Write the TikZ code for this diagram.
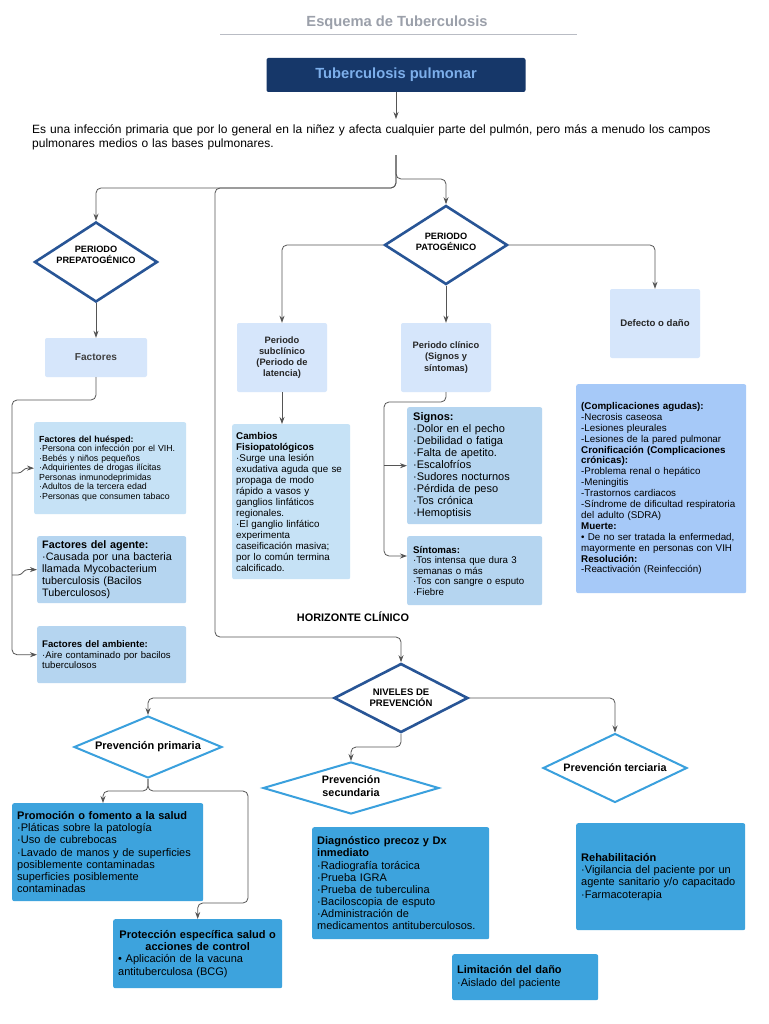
\documentclass[tikz,border=0pt]{standalone}
\usepackage{fontspec}
\setmainfont{Liberation Sans}
\usepackage{tikz}
\usetikzlibrary{arrows.meta,shapes,positioning,calc}
\definecolor{tbnavy}{RGB}{22,55,105}
\definecolor{tbtitle}{RGB}{125,175,235}
\definecolor{tbgray}{RGB}{155,160,170}
\definecolor{tbline}{RGB}{85,85,85}
\definecolor{tbdark}{RGB}{40,85,150}
\definecolor{tbmid}{RGB}{58,160,221}
\definecolor{tbpale}{RGB}{214,230,251}
\definecolor{tbsky}{RGB}{198,226,246}
\definecolor{tbsoft}{RGB}{181,213,240}
\definecolor{tbperi}{RGB}{166,201,248}
\definecolor{tbbox}{RGB}{61,163,221}
\newcommand{\fsz}[2]{\fontsize{#1}{#2}\selectfont}
\tikzstyle{arrow} = [line width=0.8pt,->,>={Stealth[length=7pt,width=5pt]},color=tbline,rounded corners=5pt]
\tikzstyle{bigdiamond} = [diamond, draw=tbdark, line width=2.6pt, inner sep=0pt]
\tikzstyle{smalldiamond} = [diamond, draw=tbmid, line width=2pt, inner sep=0pt]
\tikzstyle{dtext} = [align=center, font=\bfseries\fsz{9.2}{10.7}, text=black]
\tikzstyle{headbox} = [rectangle, rounded corners=2pt, fill=tbpale, text=black!85, align=center, font=\bfseries\fsz{9.3}{11.1}]
\tikzstyle{infobox} = [rectangle, rounded corners=2pt, anchor=north west, inner xsep=5pt, inner ysep=3pt, align=left, text=black]

\begin{document}
\begin{tikzpicture}[x=1pt,y=-1pt]
\useasboundingbox (0,0) rectangle (768,1024);
\fill[white] (0,0) rectangle (768,1024);

% Title
\node[font=\bfseries\fsz{14.7}{17}, text=tbgray] (title) at (397,23) {Esquema de Tuberculosis};
\draw[tbgray!70, line width=0.8pt] (220,34) -- (577,34);
\node[fill=tbnavy, text=tbtitle, rounded corners=2pt, minimum width=259pt, minimum height=34pt, font=\bfseries\fsz{14.7}{17}] (tbpul) at (396,75) {Tuberculosis pulmonar};
\node[anchor=north west, inner xsep=0pt, inner ysep=5pt, text width=720pt, align=left, font=\fsz{12}{14.5}] (desc) at (32,119) {Es una infección primaria que por lo general en la niñez y afecta cualquier parte del pulmón, pero más a menudo los campos\\pulmonares medios o las bases pulmonares.};

% Periodo prepatogenico
\node[bigdiamond, minimum width=123pt, minimum height=80pt] (prepat) at (96,262) {};
\node[dtext, yshift=7pt] (prepat-t) at (prepat) {PERIODO\\PREPATOGÉNICO};
\node[headbox, minimum width=102pt, minimum height=39pt, text=black!75, font=\bfseries\fsz{10.1}{12}] (factores) at (96,357.5) {Factores};
\node[infobox, fill=tbsky, text width=142pt, minimum height=92pt, font=\fsz{8.8}{9.5}] (huesped) at (34,422) {\textbf{Factores del huésped:}\\·Persona con infección por el VIH.\\·Bebés y niños pequeños\\·Adquirientes de drogas ilícitas\\Personas inmunodeprimidas\\·Adultos de la tercera edad\\·Personas que consumen tabaco};
\node[infobox, fill=tbsoft, text width=139pt, minimum height=67pt, inner xsep=5pt, font=\fsz{10.8}{12}] (agente) at (37,536) {\textbf{Factores del agente:}\\·Causada por una bacteria\\llamada Mycobacterium\\tuberculosis (Bacilos\\Tuberculosos)};
\node[infobox, fill=tbsoft, text width=139pt, minimum height=57pt, font=\fsz{9.6}{10.8}] (ambiente) at (37,626) {\textbf{Factores del ambiente:}\\·Aire contaminado por bacilos\\tuberculosos};

% Periodo patogenico
\node[bigdiamond, minimum width=123pt, minimum height=79pt] (patog) at (446,245) {};
\node[dtext, yshift=3pt] (patog-t) at (patog) {PERIODO\\PATOGÉNICO};
\node[headbox, minimum width=90pt, minimum height=69pt] (subclin) at (282,357.5) {Periodo\\subclínico\\(Periodo de\\latencia)};
\node[headbox, minimum width=90pt, minimum height=69pt] (clinico) at (446,357.5) {Periodo clínico\\(Signos y\\síntomas)};
\node[headbox, minimum width=90pt, minimum height=69pt, font=\bfseries\fsz{9.6}{11}] (defecto) at (655,323.5) {Defecto o daño};
\node[infobox, fill=tbsky, text width=110pt, minimum height=155pt, inner xsep=4pt, font=\fsz{9.8}{11}] (cambios) at (232,424) {\textbf{Cambios}\\\textbf{Fisiopatológicos}\\·Surge una lesión\\exudativa aguda que se\\propaga de modo\\rápido a vasos y\\ganglios linfáticos\\regionales.\\·El ganglio linfático\\experimenta\\caseificación masiva;\\por lo común termina\\calcificado.};
\node[infobox, fill=tbsoft, text width=123pt, minimum height=117pt, inner xsep=6pt, font=\fsz{11}{12.1}] (signos) at (407,407) {\textbf{Signos:}\\·Dolor en el pecho\\·Debilidad o fatiga\\·Falta de apetito.\\·Escalofríos\\·Sudores nocturnos\\·Pérdida de peso\\·Tos crónica\\·Hemoptisis};
\node[infobox, fill=tbsoft, text width=123pt, minimum height=69pt, inner xsep=6pt, font=\fsz{9.7}{10.4}] (sintomas) at (407,536) {\textbf{Síntomas:}\\·Tos intensa que dura 3\\semanas o más\\·Tos con sangre o esputo\\·Fiebre};
\node[infobox, fill=tbperi, text width=160pt, minimum height=209pt, font=\fsz{9.8}{10.9}] (complic) at (576,384) {\textbf{(Complicaciones agudas):}\\-Necrosis caseosa\\-Lesiones pleurales\\-Lesiones de la pared pulmonar\\\textbf{Cronificación (Complicaciones}\\\textbf{crónicas):}\\-Problema renal o hepático\\-Meningitis\\-Trastornos cardiacos\\-Síndrome de dificultad respiratoria\\del adulto (SDRA)\\\textbf{Muerte:}\\• De no ser tratada la enfermedad,\\mayormente en personas con VIH\\\textbf{Resolución:}\\-Reactivación (Reinfección)};
\node[font=\bfseries\fsz{10.9}{12}] (horizonte) at (353,617) {HORIZONTE CLÍNICO};

% Niveles de prevencion
\node[bigdiamond, minimum width=134pt, minimum height=69pt] (niveles) at (401,698) {};
\node[dtext, font=\bfseries\fsz{9.5}{11}] (niveles-t) at (niveles) {NIVELES DE\\PREVENCIÓN};
\node[smalldiamond, minimum width=148pt, minimum height=62pt] (primaria) at (148,747) {};
\node[dtext, font=\bfseries\fsz{11}{12.7}] (primaria-t) at (primaria) {Prevención primaria};
\node[smalldiamond, minimum width=176pt, minimum height=52pt] (secundaria) at (351,788) {};
\node[dtext, font=\bfseries\fsz{10.8}{12.7}, yshift=2pt] (secundaria-t) at (secundaria) {Prevención\\secundaria};
\node[smalldiamond, minimum width=144pt, minimum height=69pt] (terciaria) at (615,768) {};
\node[dtext, font=\bfseries\fsz{10.8}{12.7}] (terciaria-t) at (terciaria) {Prevención terciaria};
\node[infobox, fill=tbbox, text width=181pt, minimum height=98pt, font=\fsz{11}{12.2}] (promo) at (12,803) {\textbf{Promoción o fomento a la salud}\\·Pláticas sobre la patología\\·Uso de cubrebocas\\·Lavado de manos y de superficies\\posiblemente contaminadas\\superficies posiblemente\\contaminadas};
\node[infobox, fill=tbbox, text width=159pt, minimum height=69pt, font=\fsz{11}{12.3}] (proteccion) at (113,919) {\centering\textbf{Protección específica salud o}\\\textbf{acciones de control}\par\raggedright • Aplicación de la vacuna\\antituberculosa (BCG)};
\node[infobox, fill=tbbox, text width=167pt, minimum height=112pt, font=\fsz{11}{12.1}] (diagnostico) at (312,827) {\textbf{Diagnóstico precoz y Dx}\\\textbf{inmediato}\\·Radiografía torácica\\·Prueba IGRA\\·Prueba de tuberculina\\·Baciloscopia de esputo\\·Administración de\\medicamentos antituberculosos.};
\node[infobox, fill=tbbox, text width=159pt, minimum height=107pt, font=\fsz{11}{12.3}] (rehab) at (576,823) {\textbf{Rehabilitación}\\·Vigilancia del paciente por un\\agente sanitario y/o capacitado\\·Farmacoterapia};
\node[infobox, fill=tbbox, text width=136pt, minimum height=46pt, font=\fsz{11}{12.5}] (limitacion) at (452,954) {\textbf{Limitación del daño}\\·Aislado del paciente};

% Connectors
\draw[arrow] (tbpul.south) -- (tbpul.south |- desc.north);
\draw[arrow] (desc.south -| tbpul.south) -- (396,179) -| (patog.north);
\draw[arrow] (desc.south -| tbpul.south) -- (396,188) -| (prepat.north);
\draw[arrow] (desc.south -| tbpul.south) -- (396,188) -| (215,637) -| (niveles.north);
\draw[arrow] (prepat.south) -- (factores.north);
\draw[arrow] (factores.south) |- (12,400) |- (ambiente.west);
\draw[arrow, rounded corners=3pt] (12,473) -- (21,473) -- (25,468) -- (huesped.west);
\draw[arrow, rounded corners=3pt] (12,575) -- (21,575) -- (25,569.5) -- (agente.west);
\draw[arrow] (patog.west) -| (subclin.north);
\draw[arrow] (patog.south) -- (clinico.north);
\draw[arrow] (patog.east) -| (defecto.north);
\draw[arrow] (subclin.south) -- (subclin.south |- cambios.north);
\draw[arrow] (clinico.south) |- (384,402) -- (384,556) -- (sintomas.west |- 0,556);
\draw[arrow] (signos.west -| 384,0) -- (signos.west);
\draw[arrow] (niveles.west) -| (primaria.north);
\draw[arrow] (niveles.east) -| (terciaria.north);
\draw[arrow] (niveles.south) -- (401,747) -| (secundaria.north);
\draw[arrow] (primaria.south) -- (148,791) -| (promo.north -| 103,0);
\draw[arrow] (primaria.south) -- (148,791) -| (248,903) -| (proteccion.north);
\end{tikzpicture}
\end{document}
